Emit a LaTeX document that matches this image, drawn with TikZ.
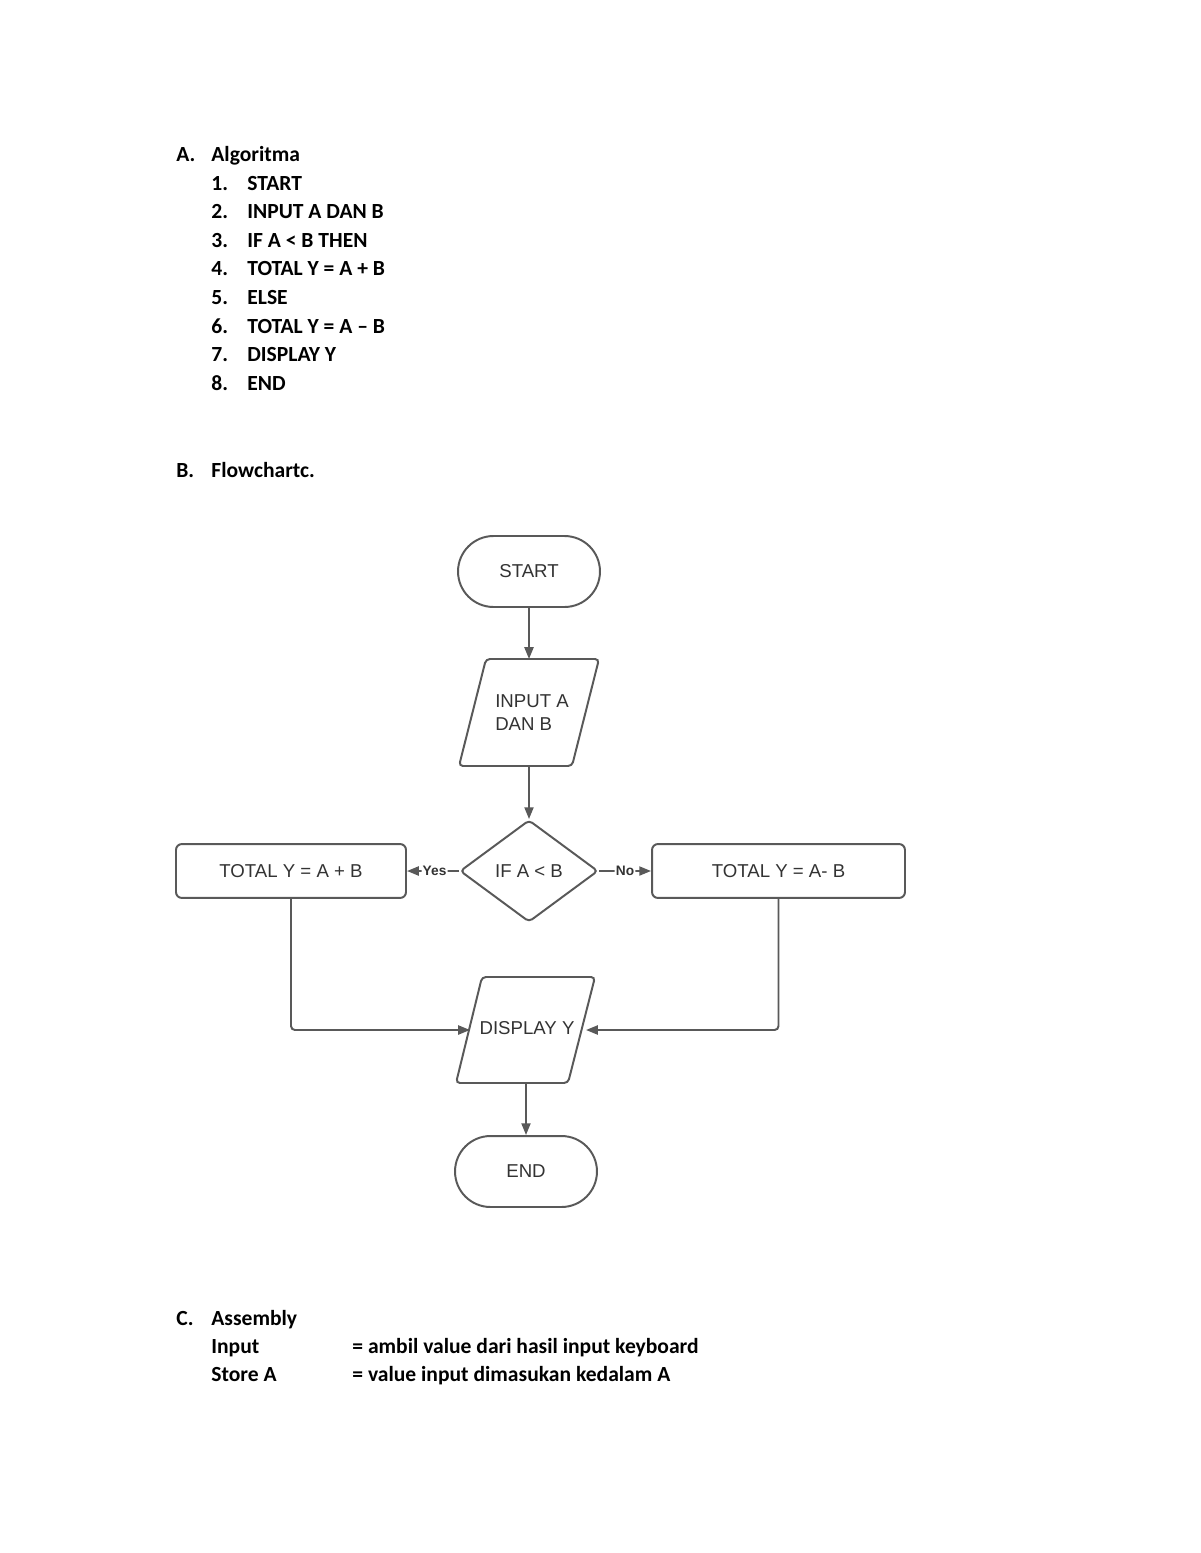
\documentclass[tikz,border=0pt]{standalone}
\usepackage{fontspec}
\setmainfont{Carlito}
\newfontfamily\flowfont{Liberation Sans}
\usetikzlibrary{shapes.geometric,shapes.misc,arrows.meta}
\definecolor{lineg}{HTML}{595959}
\definecolor{textg}{HTML}{333333}
\tikzset{
  doc/.style={anchor=base west,inner sep=0pt,font=\fontsize{11pt}{13pt}\selectfont\bfseries,text=black},
  fc/.style={draw=lineg,line width=1pt,text=textg,font=\flowfont\fontsize{9.5pt}{11.7pt}\selectfont},
  fctext/.style={text=textg,font=\flowfont\fontsize{9.5pt}{11.7pt}\selectfont,inner sep=0pt},
  term/.style={fc,rounded rectangle,minimum width=72.4pt,minimum height=36.2pt,inner sep=0pt},
  para/.style={draw=lineg,line width=1pt,rounded corners=2pt},
  decide/.style={fc,diamond,minimum width=70.4pt,minimum height=52pt,inner sep=0pt,rounded corners=2pt},
  proc/.style={fc,rectangle,minimum height=27.5pt,rounded corners=3pt},
  flow/.style={draw=lineg,line width=1pt,-{Triangle[length=6pt,width=4.6pt]},rounded corners=2pt},
  lab/.style={fill=white,inner sep=0.6pt,text=textg,font=\flowfont\fontsize{7pt}{8pt}\selectfont\bfseries},
}
\begin{document}
\begin{tikzpicture}[x=0.51pt,y=-0.51pt]
\useasboundingbox[fill=white] (0,0) rectangle (1200,1553);
% Section A
\node[doc] (aL) at (176,161.5) {A.};
\node[doc] (aT) at (211,161.5) {Algoritma};
\node[doc] (n1) at (211,190.5) {1.};  \node[doc] (t1) at (247,190.5) {START};
\node[doc] (n2) at (211,219) {2.};    \node[doc] (t2) at (247,219) {INPUT A DAN B};
\node[doc] (n3) at (211,247.5) {3.};  \node[doc] (t3) at (247,247.5) {IF A < B THEN};
\node[doc] (n4) at (211,276) {4.};    \node[doc] (t4) at (247,276) {TOTAL Y = A + B};
\node[doc] (n5) at (211,304.5) {5.};  \node[doc] (t5) at (247,304.5) {ELSE};
\node[doc] (n6) at (211,333) {6.};    \node[doc] (t6) at (247,333) {TOTAL Y = A – B};
\node[doc] (n7) at (211,361.5) {7.};  \node[doc] (t7) at (247,361.5) {DISPLAY Y};
\node[doc] (n8) at (211,390) {8.};    \node[doc] (t8) at (247,390) {END};
% Section B
\node[doc] (bL) at (176,477.5) {B.};
\node[doc] (bT) at (211,477.5) {Flowchartc.};
% Flowchart
\node[term] (start) at (529,571.5) {START};
% input parallelogram
\draw[para] (486,659) -- (599,659) -- (572,766) -- (459,766) -- cycle;
\node[fctext,align=left] (input) at (532,712.5) {INPUT A\\DAN B};
\coordinate (inputT) at (529,659);
\coordinate (inputB) at (529,766);
\node[decide] (dec) at (529,871) {IF A < B};
\node[proc,minimum width=117.3pt] (yesb) at (291,871) {TOTAL Y = A + B};
\node[proc,minimum width=129pt] (nob) at (778.5,871) {TOTAL Y = A- B};
% display parallelogram
\draw[para] (482,977) -- (595,977) -- (568,1083) -- (456,1083) -- cycle;
\node[fctext] (disp) at (527,1028) {DISPLAY Y};
\coordinate (dispT) at (526,977);
\coordinate (dispB) at (526,1083);
\coordinate (dispL) at (470,1030);
\coordinate (dispR) at (586,1030);
\node[term] (end) at (526,1171.5) {END};
\draw[flow] (start) -- (inputT);
\draw[flow] (inputB) -- (dec);
\draw[flow] (dec) -- node[lab,pos=0.47] (yesl) {Yes} (yesb);
\draw[flow] (dec) -- node[lab,pos=0.5] (nol) {No} (nob);
\draw[flow] (yesb.south) |- (dispL);
\draw[flow] (nob.south) |- (dispR);
\draw[flow] (dispB) -- (end);
% Section C
\node[doc] (cL) at (176,1325.5) {C.};
\node[doc] (cT) at (211,1325.5) {Assembly};
\node[doc] (i1) at (211,1353.5) {Input};
\node[doc] (i1v) at (352,1353.5) {= ambil value dari hasil input keyboard};
\node[doc] (i2) at (211,1381.5) {Store A};
\node[doc] (i2v) at (352,1381.5) {= value input dimasukan kedalam A};
\end{tikzpicture}
\end{document}
